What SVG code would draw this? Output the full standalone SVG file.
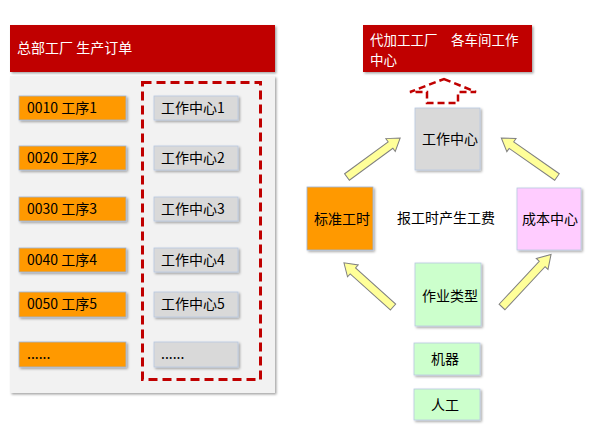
<svg xmlns="http://www.w3.org/2000/svg" width="600" height="426" viewBox="0 0 600 426">
<defs>
<filter id="sh" x="-10%" y="-10%" width="130%" height="130%"><feDropShadow dx="1.5" dy="1.5" stdDeviation="1" flood-color="#000" flood-opacity="0.35"/></filter>
<path id="arr" d="M0,-4 L54,-4 L54,-8 L66,0 L54,8 L54,4 L0,4 Z"/>
</defs>
<style>
text{font-family:"Noto Sans CJK SC","Liberation Sans",sans-serif;font-size:14px;fill:#000}
.w{fill:#fff}
.hd{font-size:13.5px}
.red{fill:#c00000}
.op{fill:#ff9900;stroke:#9db3d6;stroke-width:0.8;filter:url(#sh)}
.gr{fill:#d9d9d9;stroke:#b8c8e0;stroke-width:0.8;filter:url(#sh)}
.pk{fill:#ffccff;stroke:#b8c8e0;stroke-width:0.8;filter:url(#sh)}
.gn{fill:#ccffcc;stroke:#b8c8e0;stroke-width:0.8;filter:url(#sh)}
.ya{fill:#ffff99;stroke:#808080;stroke-width:1}
</style>
<rect width="600" height="426" fill="#fff"/>
<g id="left-panel">
<rect x="10" y="76" width="265" height="317" fill="#f2f2f2" filter="url(#sh)"/>
<rect x="10" y="25" width="265" height="47" class="red" filter="url(#sh)"/>
<text x="17" y="53" class="w">总部工厂  生产订单</text>
</g>
<g id="dashed-group"><rect x="142.5" y="82.5" width="118" height="297" fill="none" stroke="#c00000" stroke-width="3" stroke-dasharray="9,5"/></g>
<g id="op1"><rect x="19" y="96" width="107" height="24" class="op"/><text x="27" y="113">0010 工序1</text></g>
<g id="op2"><rect x="19" y="146" width="107" height="24" class="op"/><text x="27" y="163">0020 工序2</text></g>
<g id="op3"><rect x="19" y="197" width="107" height="24" class="op"/><text x="27" y="214">0030 工序3</text></g>
<g id="op4"><rect x="19" y="248" width="107" height="24" class="op"/><text x="27" y="265">0040 工序4</text></g>
<g id="op5"><rect x="19" y="292" width="107" height="25" class="op"/><text x="27" y="309">0050 工序5</text></g>
<g id="op6"><rect x="19" y="342" width="107" height="25" class="op"/><text x="27" y="359">......</text></g>
<g id="wc1"><rect x="154" y="96" width="84" height="24" class="gr"/><text x="161" y="113">工作中心1</text></g>
<g id="wc2"><rect x="154" y="146" width="84" height="24" class="gr"/><text x="161" y="163">工作中心2</text></g>
<g id="wc3"><rect x="154" y="197" width="84" height="24" class="gr"/><text x="161" y="214">工作中心3</text></g>
<g id="wc4"><rect x="154" y="248" width="84" height="24" class="gr"/><text x="161" y="265">工作中心4</text></g>
<g id="wc5"><rect x="154" y="292" width="84" height="25" class="gr"/><text x="161" y="309">工作中心5</text></g>
<g id="wc6"><rect x="154" y="342" width="84" height="25" class="gr"/><text x="161" y="359">......</text></g>
<g id="right-header">
<rect x="363" y="25" width="169" height="47" class="red" filter="url(#sh)"/>
<text class="w hd"><tspan x="370" y="45">代加工工厂　各车间工作</tspan><tspan x="370" y="64.5">中心</tspan></text>
</g>
<g id="workcenter"><rect x="415" y="108" width="65" height="62" class="gr"/><text x="422" y="144">工作中心</text></g>
<g id="std-hours"><rect x="307" y="187" width="66" height="63" class="op"/><text x="314" y="224">标准工时</text></g>
<g id="cost-center"><rect x="517" y="188" width="64" height="62" class="pk"/><text x="522" y="224">成本中心</text></g>
<g id="activity"><rect x="415" y="263" width="66" height="63" class="gn"/><text x="422" y="301">作业类型</text></g>
<g id="machine"><rect x="414" y="343" width="66" height="32" class="gn"/><text x="431" y="364">机器</text></g>
<g id="labor"><rect x="414" y="389" width="66" height="31" class="gn"/><text x="431" y="410">人工</text></g>
<text x="397" y="223">报工时产生工费</text>
<g id="connectors">
<path d="M444,79 L476,92 L458,92 L458,103 L427,103 L427,92 L410,92 Z" fill="none" stroke="#c00000" stroke-width="2.5" stroke-dasharray="7,4"/>
<use href="#arr" class="ya" transform="translate(347,177) rotate(-36.3)"/>
<use href="#arr" class="ya" transform="translate(557,177) rotate(-145) scale(1.03,1)"/>
<use href="#arr" class="ya" transform="translate(393,307) rotate(-138)"/>
<use href="#arr" class="ya" transform="translate(502,307) rotate(-47) scale(1.09,1)"/>
</g>
</svg>
